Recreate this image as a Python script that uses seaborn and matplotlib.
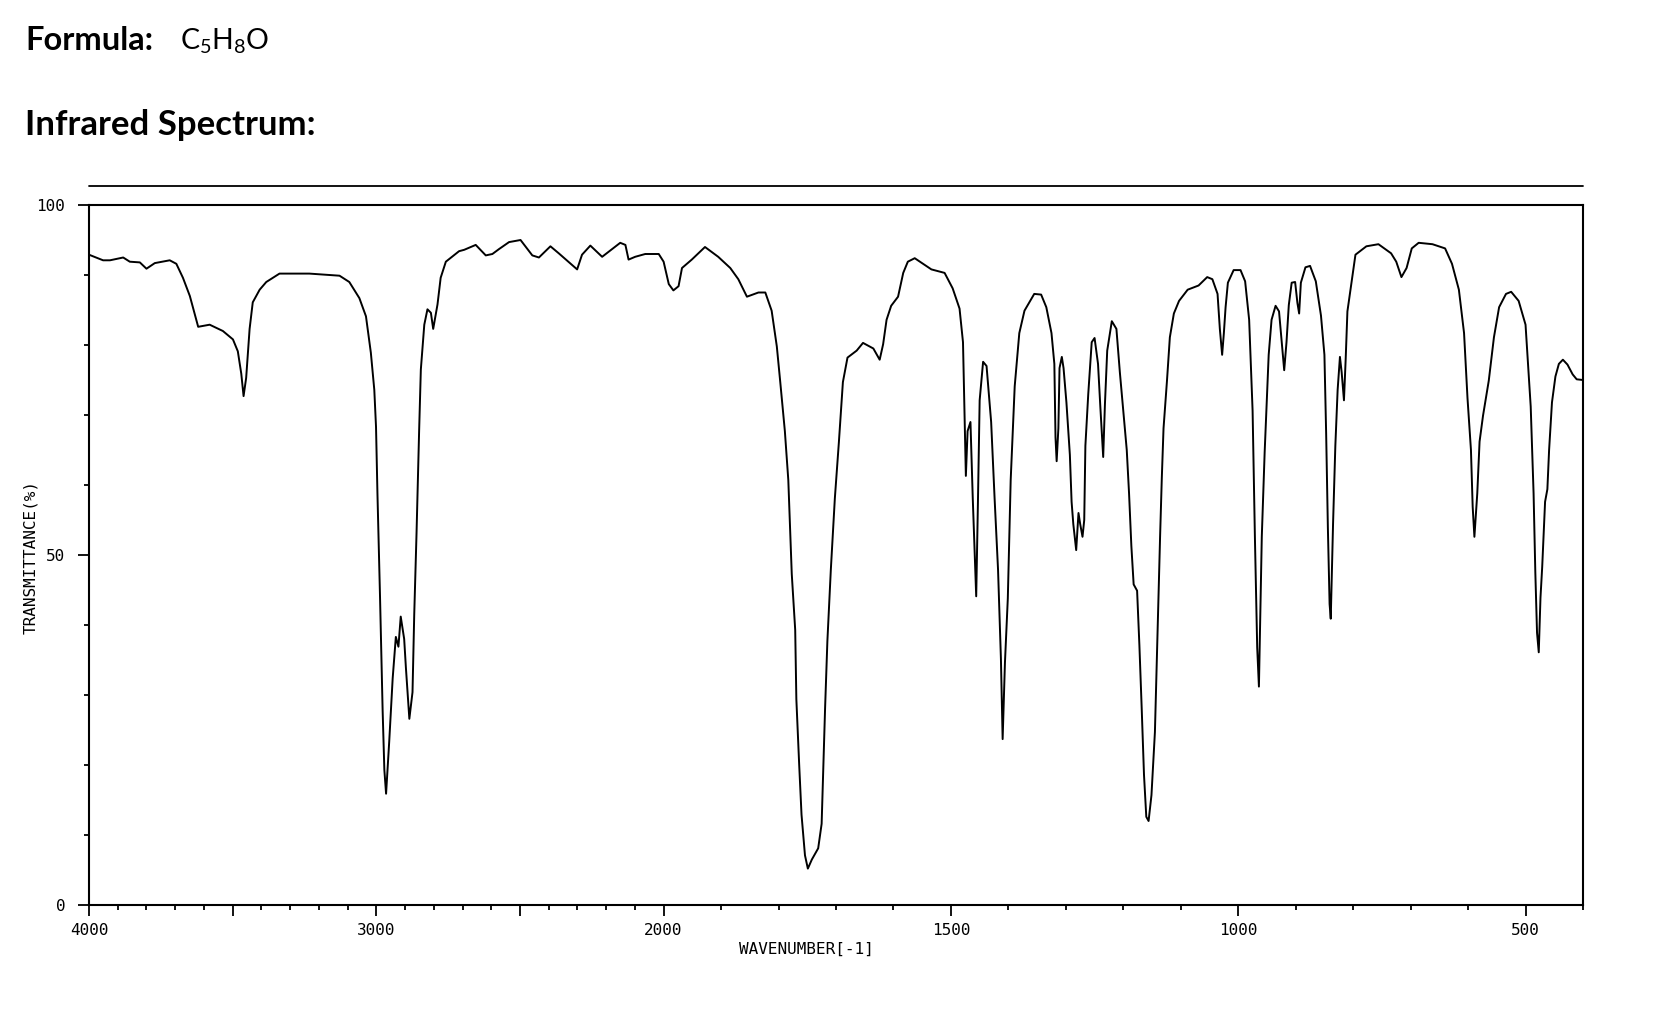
#IR spectrum of C5H8O, redrawn with seaborn

#import libraries
import numpy as np
import pandas as pd
import matplotlib
matplotlib.use('Agg')
import matplotlib.pyplot as plt
import seaborn as sns

#spectrum (wavenumber in cm-1, transmittance in %)
wavenumber = [
    4000, 3951, 3927, 3881, 3858, 3823, 3800, 3771, 3719, 3696,
    3673, 3649, 3620, 3580, 3534, 3499, 3482, 3470, 3462, 3453,
    3441, 3430, 3406, 3383, 3337, 3233, 3128, 3094, 3059, 3036,
    3019, 3007, 3001, 2996, 2987, 2978, 2972, 2966, 2955, 2943,
    2932, 2923, 2915, 2903, 2897, 2885, 2874, 2868, 2860, 2851,
    2845, 2833, 2822, 2810, 2802, 2787, 2776, 2758, 2712, 2694,
    2654, 2619, 2596, 2573, 2538, 2498, 2457, 2434, 2394, 2365,
    2301, 2284, 2255, 2214, 2151, 2133, 2122, 2099, 2064, 2017,
    2000, 1991, 1983, 1974, 1968, 1951, 1928, 1905, 1884, 1870,
    1855, 1835, 1823, 1812, 1803, 1797, 1789, 1783, 1777, 1771,
    1769, 1764, 1760, 1754, 1749, 1742, 1731, 1725, 1719, 1715,
    1709, 1702, 1695, 1688, 1680, 1664, 1653, 1635, 1624, 1618,
    1612, 1604, 1592, 1583, 1575, 1563, 1534, 1511, 1497, 1485,
    1479, 1477, 1474, 1471, 1466, 1462, 1456, 1453, 1450, 1444,
    1438, 1430, 1424, 1418, 1413, 1410, 1406, 1401, 1396, 1389,
    1381, 1372, 1355, 1343, 1334, 1325, 1320, 1318, 1316, 1313,
    1311, 1307, 1304, 1299, 1293, 1290, 1287, 1282, 1278, 1275,
    1271, 1268, 1266, 1261, 1255, 1250, 1244, 1240, 1235, 1232,
    1228, 1220, 1212, 1206, 1200, 1194, 1190, 1186, 1182, 1176,
    1172, 1168, 1164, 1160, 1156, 1151, 1145, 1140, 1136, 1133,
    1130, 1124, 1119, 1112, 1103, 1088, 1069, 1054, 1045, 1036,
    1032, 1028, 1025, 1022, 1018, 1008, 996, 988, 981, 975,
    971, 967, 964, 959, 954, 950, 947, 942, 935, 929,
    923, 920, 916, 912, 907, 901, 897, 894, 891, 883,
    875, 865, 856, 850, 847, 844, 841, 839, 835, 831,
    827, 823, 820, 816, 813, 810, 803, 796, 777, 756,
    734, 725, 716, 707, 698, 686, 662, 640, 628, 616,
    607, 601, 595, 592, 589, 584, 580, 574, 564, 555,
    546, 534, 525, 512, 500, 491, 486, 483, 480, 477,
    474, 471, 466, 462, 459, 454, 448, 442, 435, 427,
    418, 411, 400,
]
transmittance = [
    92.9, 92.1, 92.1, 92.5, 91.9, 91.8, 90.9, 91.7, 92.1, 91.6,
    89.6, 87.0, 82.6, 82.9, 82.0, 80.8, 79.1, 75.9, 72.7, 75.3,
    82.3, 86.1, 87.9, 89.0, 90.2, 90.2, 89.9, 89.0, 86.7, 84.1,
    78.9, 73.6, 68.3, 58.7, 43.9, 27.8, 19.3, 15.9, 23.4, 32.4,
    38.3, 36.9, 41.2, 38.0, 33.9, 26.6, 30.4, 41.5, 53.1, 67.7,
    76.5, 82.9, 85.1, 84.6, 82.3, 85.8, 89.6, 91.9, 93.4, 93.6,
    94.3, 92.8, 93.0, 93.7, 94.7, 95.0, 92.8, 92.5, 94.1, 93.1,
    90.8, 92.9, 94.2, 92.6, 94.6, 94.3, 92.2, 92.6, 93.0, 93.0,
    91.9, 88.7, 87.8, 88.4, 91.0, 92.2, 94.0, 92.6, 91.0, 89.4,
    86.9, 87.5, 87.5, 84.9, 79.8, 74.7, 67.7, 60.7, 47.3, 39.3,
    29.4, 19.9, 12.9, 7.1, 5.2, 6.5, 8.1, 11.6, 28.1, 37.7,
    47.9, 58.1, 66.1, 74.7, 78.2, 79.2, 80.3, 79.5, 77.9, 80.1,
    83.6, 85.6, 86.9, 90.3, 91.9, 92.4, 90.8, 90.3, 88.1, 85.2,
    80.4, 72.8, 61.3, 67.7, 69.0, 58.1, 44.1, 57.5, 72.1, 77.6,
    77.0, 69.0, 58.1, 47.9, 35.2, 23.7, 34.6, 43.8, 60.7, 74.1,
    81.7, 84.9, 87.3, 87.2, 85.4, 81.7, 77.3, 66.8, 63.4, 68.1,
    76.7, 78.3, 76.7, 71.8, 64.3, 57.6, 54.4, 50.7, 56.0, 54.4,
    52.6, 55.0, 65.6, 73.0, 80.4, 81.0, 77.3, 71.2, 64.0, 71.5,
    79.2, 83.4, 82.3, 76.1, 70.6, 65.0, 58.8, 51.3, 45.8, 44.9,
    37.1, 28.1, 18.6, 12.6, 12.0, 15.7, 24.7, 40.2, 52.6, 61.0,
    68.1, 74.9, 81.1, 84.5, 86.3, 87.9, 88.5, 89.7, 89.4, 87.3,
    82.3, 78.6, 81.7, 85.4, 88.9, 90.7, 90.7, 89.1, 83.6, 70.6,
    52.6, 36.8, 31.2, 52.6, 64.7, 72.7, 78.6, 83.6, 85.6, 84.8,
    79.2, 76.4, 80.4, 85.7, 88.9, 89.0, 86.0, 84.5, 88.9, 91.1,
    91.3, 89.1, 84.2, 78.6, 67.4, 53.9, 43.0, 40.9, 54.4, 65.6,
    73.6, 78.3, 76.1, 72.1, 78.0, 84.8, 88.9, 92.9, 94.1, 94.4,
    93.1, 91.9, 89.7, 91.0, 93.8, 94.6, 94.4, 93.8, 91.6, 87.9,
    81.7, 72.4, 65.0, 56.9, 52.6, 58.8, 66.2, 69.9, 74.9, 81.1,
    85.4, 87.3, 87.6, 86.3, 82.9, 71.2, 58.8, 47.6, 38.9, 36.1,
    43.9, 48.3, 57.6, 59.4, 65.0, 71.8, 75.5, 77.3, 77.9, 77.2,
    75.8, 75.1, 75.0,
]

#axis ticks
x_major = [4000, 3500, 3000, 2500, 2000, 1500, 1000, 500]
x_major_labels = ['4000', '', '3000', '', '2000', '1500', '1000', '500']
x_minor = list(range(400, 4001, 100))
y_major = [0, 50, 100]
y_minor = list(range(0, 101, 10))

spectrum = pd.DataFrame({'wavenumber': wavenumber, 'transmittance': transmittance})

#wavenumber axis: 4000-2000 at half the scale of 2000-400
def fwd(w):
    w = np.asarray(w, dtype=float)
    return np.where(w >= 2000, w, 2 * w - 2000)

def inv(u):
    u = np.asarray(u, dtype=float)
    return np.where(u >= 2000, u, (u + 2000) / 2)

sns.set_style('white')
plt.rcParams['text.color'] = 'black'
plt.rcParams['xtick.color'] = 'black'
plt.rcParams['ytick.color'] = 'black'
plt.rcParams['axes.labelcolor'] = 'black'
mono = 'DejaVu Sans Mono'

fig = plt.figure(figsize=(16.7, 10.24), dpi=100)
ax = fig.add_axes([89 / 1670, 1 - 905 / 1024, 1494 / 1670, 700 / 1024])

sns.lineplot(data=spectrum, x='wavenumber', y='transmittance', sort=False,
             estimator=None, color='black', linewidth=1.4, ax=ax)

ax.set_xscale('function', functions=(fwd, inv))
ax.set_xlim(4000, 400)
ax.set_ylim(0, 100)

ax.set_xticks(x_major)
ax.set_xticklabels(x_major_labels, fontfamily=mono, fontsize=11.5)
ax.set_xticks(x_minor, minor=True)
ax.set_yticks(y_major)
ax.set_yticklabels([str(v) for v in y_major], fontfamily=mono, fontsize=11.5)
ax.set_yticks(y_minor, minor=True)

ax.tick_params(which='major', direction='out', length=8, width=1.3, color='black',
               bottom=True, left=True)
ax.tick_params(axis='x', which='major', pad=5)
ax.tick_params(axis='y', which='major', pad=9)
ax.tick_params(which='minor', direction='out', length=3.5, width=1.3, color='black',
               bottom=True, left=True)

for side in ['top', 'bottom', 'left', 'right']:
    ax.spines[side].set_visible(True)
    ax.spines[side].set_color('black')
    ax.spines[side].set_linewidth(1.5)

#second rule above the frame
ax.axhline(102.7, color='black', linewidth=1.3, clip_on=False)

ax.set_xlabel('WAVENUMBER[-1]', fontfamily=mono, fontsize=11.5)
ax.xaxis.set_label_coords(0.48, -0.053)
ax.set_ylabel('TRANSMITTANCE(%)', fontfamily=mono, fontsize=11.5)
ax.yaxis.set_label_coords(-0.034, 0.497)

#heading
plt.rcParams['mathtext.fontset'] = 'custom'
plt.rcParams['mathtext.rm'] = 'Lato'
plt.rcParams['mathtext.it'] = 'Lato:italic'
fig.text(25 / 1670, 1 - 50 / 1024, 'Formula:', fontfamily='Lato', fontweight='bold',
         fontsize=23.5, va='baseline', ha='left', color='black')
fig.text(180 / 1670, 1 - 50 / 1024, r'C$_5$H$_8$O', fontfamily='Lato',
         fontsize=20.5, va='baseline', ha='left', color='black')
fig.text(25 / 1670, 1 - 135 / 1024, 'Infrared Spectrum:', fontfamily='Lato',
         fontweight='bold', fontsize=25, va='baseline', ha='left', color='black')

plt.savefig('out.png', dpi=100)
